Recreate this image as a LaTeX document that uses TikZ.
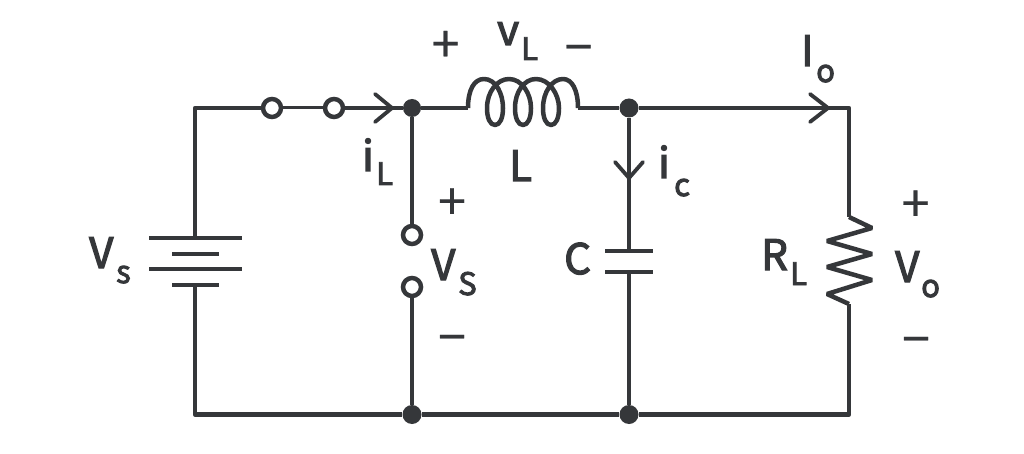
\documentclass[tikz,border=0pt]{standalone}
\usepackage{fontspec}
\setmainfont{Noto Sans CJK SC}[FakeBold=3]
\newfontfamily\signfont{Noto Sans CJK SC}[FakeBold=0.4]
\definecolor{ink}{HTML}{35373A}
\tikzset{
  x=1pt,y=-1pt,
  wire/.style={draw=ink,line width=4.5pt,line join=round},
  thinwire/.style={draw=ink,line width=3pt},
  plate/.style={draw=ink,line width=4.5pt},
  chev/.style={draw=ink,line width=3.8pt,line cap=round,line join=miter},
  dot/.style={circle,fill=ink,inner sep=0pt,minimum size=19pt},
  term/.style={circle,draw=ink,fill=white,line width=4.5pt,inner sep=0pt,minimum size=18pt},
  big/.style={anchor=base west,inner sep=0pt,text=ink,font=\fontsize{42}{48}\selectfont},
  small/.style={anchor=base west,inner sep=0pt,text=ink,font=\fontsize{31}{36}\selectfont},
  sign/.style={anchor=center,inner sep=0pt,text=ink,font=\signfont\fontsize{50}{60}\selectfont},
}
\begin{document}
\begin{tikzpicture}
\useasboundingbox[fill=white] (0,0) rectangle (1024,454);
% corners and component ends
\coordinate (tl) at (195,108);
\coordinate (bl) at (195,414.5);
\coordinate (tr) at (849,108);
\coordinate (br) at (849,414.5);
\coordinate (batT) at (195,238);
\coordinate (batB) at (195,285);
\coordinate (indL) at (468,108);
\coordinate (indR) at (578,108);
\coordinate (capT) at (629,251);
\coordinate (capB) at (629,272);
\coordinate (resT) at (849,217);
\coordinate (resB) at (849,304);
\coordinate (tipL) at (392,108);
\coordinate (tipO) at (828,108);
\coordinate (tipC) at (629,178);
% junction and terminal nodes
\node[term] (s1) at (272,108) {};
\node[term] (s2) at (334,108) {};
\node[term] (s3) at (412,235) {};
\node[term] (s4) at (412,287) {};
\node[dot,minimum size=18pt] (j1) at (412,108) {};
\node[dot] (j2) at (629,108) {};
\node[dot] (j3) at (412,414.5) {};
\node[dot] (j4) at (629,414.5) {};
% wires
\draw[wire] (batT) -- (tl) -- (s1);
\draw[thinwire] (s1) -- (s2);
\draw[wire] (s2) -- (j1) -- (indL);
\draw[wire] (indR) -- (j2) -- (tr) -- (resT);
\draw[wire] (j1) -- (s3);
\draw[wire] (s4) -- (j3);
\draw[wire] (j2) -- (capT);
\draw[wire] (capB) -- (j4);
\draw[wire] (resB) -- (br) -- (j4) -- (j3) -- (bl) -- (batB);
% battery
\draw[plate] (149,238) -- (242,238);
\draw[plate] (172,254) -- (219,254);
\draw[plate] (149,269) -- (242,269);
\draw[plate] (172,285) -- (219,285);
% capacitor
\draw[plate] (605,251) -- (653,251);
\draw[plate] (605,272) -- (653,272);
% inductor
\draw[wire,line cap=butt] (indL)
  .. controls (468,90) and (474,79) .. (484,79)
  .. controls (496,79) and (503,94) .. (503,108)
  .. controls (503,118) and (500,125) .. (495,125)
  .. controls (490,125) and (487,118) .. (487,108)
  .. controls (487,92) and (497,79) .. (509,79)
  .. controls (522,79) and (531,94) .. (531,108)
  .. controls (531,118) and (528,125) .. (523,125)
  .. controls (518,125) and (515,118) .. (515,108)
  .. controls (515,92) and (524,79) .. (536,79)
  .. controls (549,79) and (559,94) .. (559,108)
  .. controls (559,118) and (556,125) .. (551,125)
  .. controls (546,125) and (543,118) .. (543,108)
  .. controls (543,92) and (552,79) .. (563,79)
  .. controls (572,79) and (578,90) .. (indR);
% resistor
\draw[wire,line join=miter,miter limit=2] (resT) -- (872,228) -- (827,241) -- (872,254) -- (827,267) -- (872,280) -- (827,294) -- (resB);
% arrows
\draw[chev] (375,94) -- (tipL) -- (375,122);
\draw[chev] (810,94) -- (tipO) -- (810,122);
\draw[chev] (615,162) -- (tipC) -- (643,162);
% labels
\node[sign] (p1) at (445.5,46.5) {+};
\node[sign] (m1) at (578.5,55) {−};
\node[big] (vl) at (497,45) {v};
\node[small] (vls) at (521,60) {L};
\node[big] (l) at (509,181) {L};
\node[big] (il) at (362,171) {i};
\node[small] (ils) at (376,185) {L};
\node[big] (vs) at (89,268) {V};
\node[small] (vss) at (116,283) {s};
\node[sign] (p2) at (452,204) {+};
\node[sign] (m2) at (452,345) {−};
\node[big] (vsw) at (431,280) {V};
\node[small] (vsws) at (458,295) {S};
\node[big] (c) at (564,274) {C};
\node[big] (ic) at (658,178) {i};
\node[small] (ics) at (674,196) {c};
\node[big] (io) at (801,66) {I};
\node[small] (ios) at (816,82) {o};
\node[big] (rl) at (761,270) {R};
\node[small] (rls) at (790,285) {L};
\node[sign] (p3) at (915.5,206) {+};
\node[big] (vo) at (895,282) {V};
\node[small] (vos) at (921,297) {o};
\node[sign] (m3) at (916,347) {−};
\end{tikzpicture}
\end{document}
